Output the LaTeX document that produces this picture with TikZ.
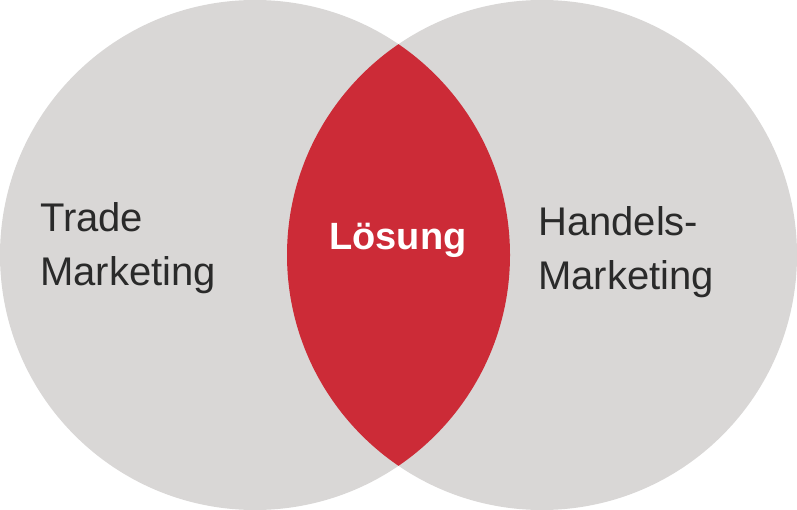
\documentclass[tikz,border=0pt]{standalone}
\usepackage{fontspec}
\setmainfont{Liberation Sans}
\definecolor{cgray}{HTML}{D9D7D6}
\definecolor{cred}{HTML}{CC2B37}
\definecolor{ctext}{HTML}{2A2A2A}
\begin{document}
\begin{tikzpicture}[x=1pt,y=-1pt,
  lbl/.style={font=\fontsize{40}{54}\selectfont,text=ctext,align=left,anchor=west,inner sep=0pt}]
\useasboundingbox (0,0) rectangle (797,510);
\fill[cgray] (255,255) circle[radius=255];
\fill[cgray] (542,255) circle[radius=255];
\begin{scope}
\clip (255,255) circle[radius=255];
\fill[cred] (542,255) circle[radius=255];
\end{scope}
\node[lbl] (l) at (40,248) {Trade\\Marketing};
\node[lbl] (r) at (538,252) {Handels-\\Marketing};
\node[font=\fontsize{38}{46}\selectfont\bfseries,text=white,inner sep=0pt] (m) at (398,240) {Lösung};
\end{tikzpicture}
\end{document}
